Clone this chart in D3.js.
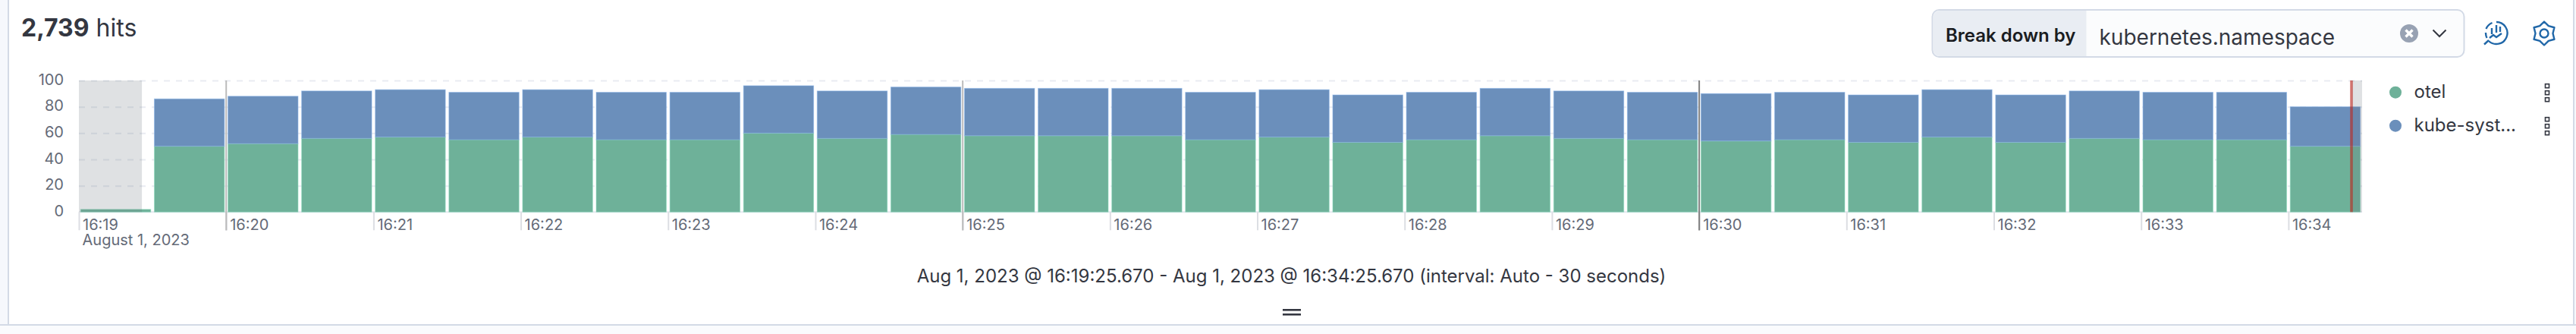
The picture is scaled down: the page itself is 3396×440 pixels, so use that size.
<!DOCTYPE html>
<html>
<head>
<meta charset="utf-8">
<script src="https://cdn.jsdelivr.net/npm/d3@7"></script>
<style>
  html, body { margin: 0; padding: 0; background: #fff; overflow: hidden; }
  text { font-family: Inter, "Noto Sans", sans-serif; }
  .domain { display: none; }
</style>
</head>
<body>
<svg id="chart" width="3396" height="440"></svg>
<script>
var bucketTimes = ['16:19:00','16:19:30','16:20:00','16:20:30','16:21:00','16:21:30','16:22:00','16:22:30',
  '16:23:00','16:23:30','16:24:00','16:24:30','16:25:00','16:25:30','16:26:00','16:26:30','16:27:00','16:27:30',
  '16:28:00','16:28:30','16:29:00','16:29:30','16:30:00','16:30:30','16:31:00','16:31:30','16:32:00','16:32:30',
  '16:33:00','16:33:30','16:34:00']
var otelValues = [2,50,52,56,57,55,57,55,55,60,56,59,58,58,58,55,57,53,55,58,56,55,54,55,53,57,53,56,55,55,50]
var kubeValues = [0,36,36,36,36,36,36,36,36,36,36,36,36,36,36,36,36,36,36,36,36,36,36,36,36,36,36,36,36,36,30]
var seriesNames = ['otel','kube-syst...']
var seriesColors = ['#6eb199','#6b8fbb']
var minuteTicks = ['16:19','16:20','16:21','16:22','16:23','16:24','16:25','16:26','16:27','16:28','16:29','16:30','16:31','16:32','16:33','16:34']
var yTicks = [0,20,40,60,80,100]
var darkTicks = {'16:20':'#bcbcbc','16:25':'#bcbcbc','16:30':'#808080'}
var domainStart = '16:19:00.000', domainEnd = '16:34:30.000'
var rangeStart = '16:19:25.670', rangeEnd = '16:34:25.670'

var parseFull = d3.timeParse('%H:%M:%S.%L')
var parseSec = d3.timeParse('%H:%M:%S')
var parseMin = d3.timeParse('%H:%M')
var fmtMin = d3.timeFormat('%H:%M')

var top_y = 106, base_y = 279.3, left_x = 104, right_x = 3114
var bucketPad = 2.35
var ink = '#343741', axisInk = '#646a77', lineCol = '#d3dae6', iconBlue = '#2067a8'

var x = d3.scaleTime().domain([parseFull(domainStart), parseFull(domainEnd)]).range([left_x, right_x])
var y = d3.scaleLinear().domain([0,100]).range([base_y, top_y])

var svg = d3.select('#chart')

// page frame
svg.append('rect').attr('width',3396).attr('height',440).attr('fill','#f6f8fc')
svg.append('rect').attr('x',11).attr('y',-20).attr('width',3382).attr('height',480)
    .attr('rx',12).attr('fill','#fff').attr('stroke',lineCol).attr('stroke-width',2)
svg.append('rect').attr('x',0).attr('y',429).attr('width',3396).attr('height',11).attr('fill','#fafbfd')
svg.append('rect').attr('x',0).attr('y',427).attr('width',3396).attr('height',2).attr('fill',lineCol)

// hits
var hits = svg.append('text').attr('x',28).attr('y',47.5).attr('font-size',32).attr('fill',ink)
hits.append('tspan').attr('font-weight',700).text('2,739')
hits.append('tspan').text(' hits')

// grid
var grid = svg.append('g').attr('transform','translate('+left_x+',0)')
    .call(d3.axisLeft(y).tickValues(yTicks.slice(1)).tickSize(-(right_x-left_x)).tickFormat(''))
grid.selectAll('line').attr('stroke','#e9ecf2').attr('stroke-width',2).attr('stroke-dasharray','8,8')
svg.append('line').attr('x1',left_x).attr('x2',right_x).attr('y1',base_y).attr('y2',base_y)
    .attr('stroke','#e4e8ef').attr('stroke-width',2)

// bars
var stacked = [otelValues, kubeValues]
var starts = bucketTimes.map(function(t){ return parseSec(t) })
stacked.forEach(function(vals, s){
  var g = svg.append('g')
  vals.forEach(function(d, i){
    if (d == 0) return
    var below = s == 0 ? 0 : otelValues[i]
    var x0 = x(starts[i]) + bucketPad
    var x1 = x(d3.timeSecond.offset(starts[i],30)) - bucketPad
    g.append('rect')
        .attr('x',x0).attr('width',x1-x0)
        .attr('y',y(below+d)).attr('height',y(below)-y(below+d))
        .attr('fill',seriesColors[s])
        .attr('stroke',d3.color(seriesColors[s]).brighter(0.6).formatHex())
        .attr('stroke-opacity',0.55).attr('stroke-width',1)
  })
})

// y axis
var yAxis = svg.append('g').attr('transform','translate(84,0)')
    .call(d3.axisLeft(y).tickValues(yTicks).tickSize(0).tickPadding(0))
yAxis.selectAll('text').attr('font-size',20).attr('fill',axisInk).attr('dy','0.26em')
    .style('font-family','Inter')

// x axis
var xAxis = svg.append('g').attr('transform','translate(0,'+base_y+')')
    .call(d3.axisBottom(x).tickValues(minuteTicks.map(function(m){ return parseMin(m) }))
        .tickSize(24).tickFormat(fmtMin))
xAxis.selectAll('line').attr('stroke','#dcdee3').attr('stroke-width',2)
xAxis.selectAll('text').attr('font-size',20).attr('fill',axisInk).attr('text-anchor','start')
    .attr('x',4.5).attr('y',2).attr('dy','21.4').style('font-family','Inter')
svg.append('text').attr('x',108.5).attr('y',322.6).attr('font-size',20).attr('fill',axisInk).text('August 1, 2023')

// full-height minute markers
minuteTicks.forEach(function(m){
  if (!darkTicks[m]) return
  var px = x(parseMin(m))
  svg.append('line').attr('x1',px).attr('x2',px).attr('y1',top_y).attr('y2',303.5)
      .attr('stroke',darkTicks[m]).attr('stroke-width',2)
})

// out of range shading and end marker
var shade = 'rgba(105,112,125,0.21)'
svg.append('rect').attr('x',x(parseFull(domainStart))).attr('y',top_y)
    .attr('width',x(parseFull(rangeStart))-x(parseFull(domainStart))).attr('height',base_y-top_y).attr('fill',shade)
svg.append('rect').attr('x',x(parseFull(rangeEnd))).attr('y',top_y)
    .attr('width',x(parseFull(domainEnd))-x(parseFull(rangeEnd))).attr('height',base_y-top_y).attr('fill',shade)
svg.append('rect').attr('x',x(parseFull(rangeEnd))-1.8).attr('y',top_y).attr('width',3.6).attr('height',base_y-top_y)
    .attr('fill','rgba(189,39,30,0.62)')

// range caption
svg.append('text').attr('x',1702.5).attr('y',371.5).attr('text-anchor','middle').attr('font-size',24).attr('fill',ink)
    .text('Aug 1, 2023 @ 16:19:25.670 - Aug 1, 2023 @ 16:34:25.670 (interval: Auto - 30 seconds)')

// resize handle
svg.append('rect').attr('x',1691).attr('y',407).attr('width',24).attr('height',2.6).attr('fill',ink)
svg.append('rect').attr('x',1691).attr('y',413).attr('width',24).attr('height',2.6).attr('fill',ink)

// break down control
svg.append('rect').attr('x',2547.5).attr('y',13).attr('width',701).attr('height',62).attr('rx',9)
    .attr('fill','#fbfcfd').attr('stroke',lineCol).attr('stroke-width',2)
svg.append('path').attr('d','M2750.5 14H2557a9 9 0 0 0-8.5 9v42a9 9 0 0 0 8.5 9H2750.5Z').attr('fill','#e9edf3')
svg.append('text').attr('x',2565).attr('y',55).attr('font-size',24).attr('font-weight',600).attr('fill','#1a1c21').text('Break down by')
svg.append('text').attr('x',2767.5).attr('y',59).attr('font-size',28).attr('fill',ink).text('kubernetes.namespace')
svg.append('circle').attr('cx',3176).attr('cy',44).attr('r',12).attr('fill','#98a2b3')
svg.append('path').attr('d','M3171.5 39.5l9 9M3180.5 39.5l-9 9').attr('stroke','#fff').attr('stroke-width',3.4)
svg.append('path').attr('d','M3207.5 39.5l8.5 8.5 8.5-8.5').attr('fill','none').attr('stroke',ink).attr('stroke-width',2)

// analysis icon
var icon = svg.append('g').attr('fill','none').attr('stroke',iconBlue).attr('stroke-width',2.4)
icon.append('path').attr('d','M3291 29a14.5 14.5 0 1 1-10 25M3278.5 50a14.5 14.5 0 0 1-1.5-7M3277.5 38a14.5 14.5 0 0 1 8-8')
icon.append('path').attr('d','M3281 53l-6 5.5')
icon.append('path').attr('d','M3285 37v8M3291 33v10M3296 35v7')
icon.append('path').attr('d','M3282 50l5-4 4 3 7-5')

// settings icon
var gearPts = d3.range(12).map(function(i){ return [i*Math.PI/6, i%2==0 ? 15.5 : 11.5] })
svg.append('path').attr('transform','translate(3354,44)')
    .attr('d',d3.lineRadial().curve(d3.curveLinearClosed)(gearPts))
    .attr('fill','none').attr('stroke',iconBlue).attr('stroke-width',2.4).attr('stroke-linejoin','round')
svg.append('circle').attr('cx',3354).attr('cy',44).attr('r',5.5)
    .attr('fill','none').attr('stroke',iconBlue).attr('stroke-width',2.4)

// legend
seriesNames.forEach(function(name, i){
  var ly = 121.7 + i*44
  svg.append('circle').attr('cx',3158).attr('cy',ly).attr('r',8).attr('fill',seriesColors[i])
  svg.append('text').attr('x',3182.5).attr('y',ly+7.5).attr('font-size',24).attr('fill',ink).text(name)
  ;[-9,0,9].forEach(function(off){
    svg.append('rect').attr('x',3355.5).attr('y',ly+off-2).attr('width',5).attr('height',5)
        .attr('fill','none').attr('stroke',ink).attr('stroke-width',1.6)
  })
})
</script>
</body>
</html>
